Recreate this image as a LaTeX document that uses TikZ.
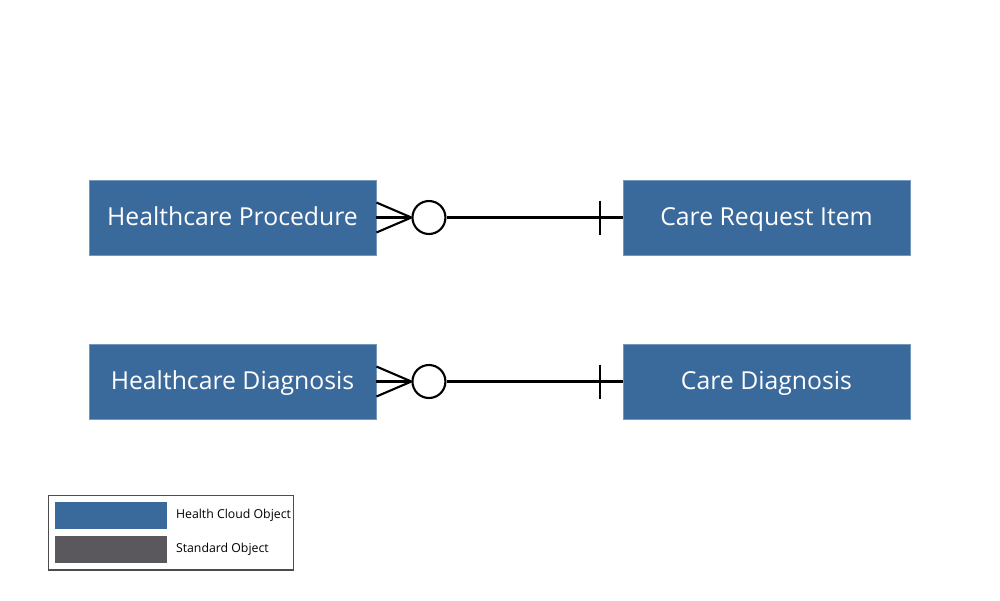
\documentclass[tikz,border=0pt]{standalone}
\usepackage{fontspec}
\setmainfont{Open Sans}
\usepackage{xcolor}
\usepackage{tikz}
\usetikzlibrary{positioning}
\definecolor{hcblue}{HTML}{3A6A9C}
\definecolor{stdgray}{HTML}{5A585D}
\tikzset{entity/.style={rectangle, fill=hcblue, draw=hcblue!70!white, line width=0.5pt, minimum width=5.74cm, minimum height=1.5cm, text=white, text height=1.12em, text depth=0.22em, font=\fontsize{14.1}{16}\selectfont}}
\tikzset{optcircle/.style={circle, draw, fill=white, line width=1.2pt, minimum size=0.66cm, inner sep=0pt}}
\tikzset{swatch/.style={rectangle, minimum width=2.24cm, minimum height=0.53cm, inner sep=0pt}}
\tikzset{legendtext/.style={font=\fontsize{7}{8}\selectfont, anchor=west, inner sep=0pt}}

\begin{document}
\begin{tikzpicture}[x=0.02cm, y=-0.02cm, line width=1.2pt]
\useasboundingbox (0,0) rectangle (1000,600);
\node[entity] (hp) at (232.5,217.5) {Healthcare Procedure};
\node[entity] (cri) at (766.5,217.5) {Care Request Item};
\node[entity] (hd) at (232.5,381.5) {Healthcare Diagnosis};
\node[entity] (cd) at (766.5,381.5) {Care Diagnosis};
% zero or many .. exactly one
\foreach \a/\b in {hp/cri, hd/cd}
{
\coordinate (\a foot) at ([xshift=0.7cm]\a.east);
\draw (\a.east) ++(0,-15) -- (\a foot);
\draw (\a.east) ++(0,15) -- (\a foot);
\draw (\a.east) -- (\a foot);
\node[optcircle, anchor=west] (\a o) at (\a foot) {};
\draw (\a o.east) -- (\b.west);
\draw ([xshift=-0.46cm]\b.west) ++(0,-17) -- ++(0,34);
}
% legend
\draw[draw=black!70, line width=0.6pt] (48.5,495.5) rectangle (293.5,570);
\node[swatch, fill=hcblue] (hcs) at (111,515.5) {};
\node[swatch, fill=stdgray] (sts) at (111,549.5) {};
\node[legendtext] (hct) at (175,515.5) {Health Cloud Object};
\node[legendtext] (stt) at (175,549.5) {Standard Object};
\end{tikzpicture}
\end{document}
